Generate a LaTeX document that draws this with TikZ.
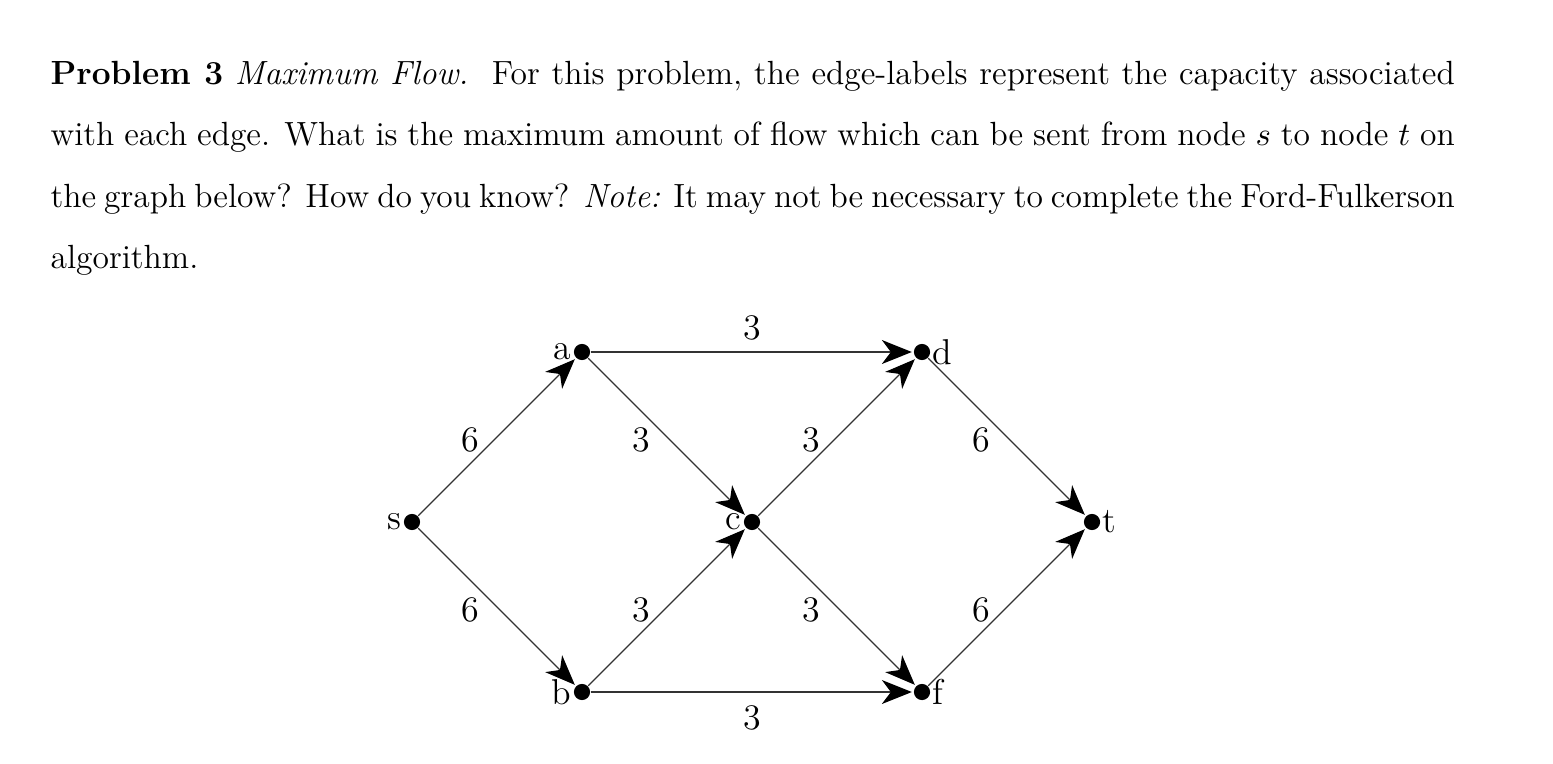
\documentclass[tikz,border=0pt]{standalone}
\usetikzlibrary{arrows.meta}
\begin{document}
\begin{tikzpicture}[x=0.334pt,y=-0.334pt,
  vtx/.style={circle,fill=black,inner sep=0pt,minimum size=5.4pt},
  edge/.style={draw=black!80,line width=0.4pt,-{Stealth[length=10pt,width=8pt,inset=3pt,fill=black,color=black]},shorten >=0.5pt},
  nl/.style={inner sep=0.5pt,font=\large}]
\useasboundingbox (0,0) rectangle (1553,763);
\node[anchor=north west,inner sep=0pt,text width=469pt,align=justify] at (50,61)
 {\fontsize{11.2}{20.4}\selectfont \textbf{Problem 3} \textit{Maximum Flow.}\ \ For this problem, the edge-labels represent the capacity associated with each edge. What is the maximum amount of flow which can be sent from node $s$ to node $t$ on the graph below? How do you know? \textit{Note:} It may not be necessary to complete the Ford-Fulkerson algorithm.\par};
\node[vtx,label={[nl]left:s}] (s) at (412,522) {};
\node[vtx,label={[nl]left:a}] (a) at (582,352) {};
\node[vtx,label={[nl]left:b}] (b) at (582,692) {};
\node[vtx,label={[nl]left:c}] (c) at (752,522) {};
\node[vtx,label={[nl]right:d}] (d) at (922,352) {};
\node[vtx,label={[nl]right:f}] (f) at (922,692) {};
\node[vtx,label={[nl]right:t}] (t) at (1092,522) {};
\draw[edge] (s) -- (a);
\draw[edge] (s) -- (b);
\draw[edge] (a) -- (d);
\draw[edge] (a) -- (c);
\draw[edge] (b) -- (c);
\draw[edge] (b) -- (f);
\draw[edge] (c) -- (d);
\draw[edge] (c) -- (f);
\draw[edge] (d) -- (t);
\draw[edge] (f) -- (t);
\begin{scope}[every node/.style={font=\large}]
\node (l1) at (752,328) {3};
\node (l2) at (470,440) {6};
\node (l3) at (641,440) {3};
\node (l4) at (811,440) {3};
\node (l5) at (981,440) {6};
\node (l6) at (470,610) {6};
\node (l7) at (641,610) {3};
\node (l8) at (811,610) {3};
\node (l9) at (981,610) {6};
\node (l10) at (752,718) {3};
\end{scope}
\end{tikzpicture}
\end{document}
